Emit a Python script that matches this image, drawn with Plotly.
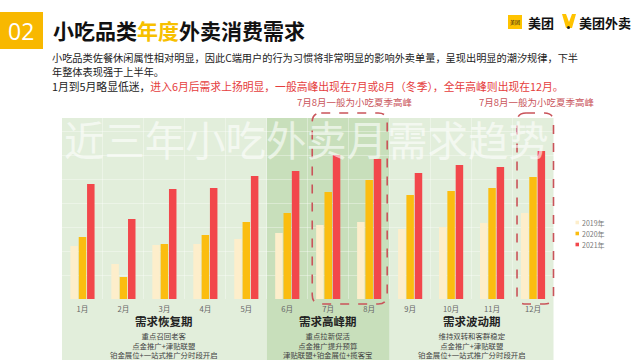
import plotly.graph_objects as go

months = ["1月", "2月", "3月", "4月", "5月", "6月", "7月", "8月", "9月", "10月", "11月", "12月"]
y2019 = [53, 35, 54, 55, 60, 66, 74, 77, 70, 72, 76, 86]
y2020 = [62, 22, 55, 64, 77, 86, 107, 119, 104, 108, 111, 122]
y2021 = [115, 80, 110, 111, 123, 128, 144, 140, 126, 134, 132, 148]
series_names = ["2019年", "2020年", "2021年"]
series_colors = ["#fdeecb", "#fbbd10", "#f2474b"]

phases = [
    {"range": (0, 4), "title": "需求恢复期", "lines": ["重点召回老客", "点金推广+津贴联盟", "铂金展位+一站式推广分时段开启"], "bg": "#e2eedb"},
    {"range": (5, 7), "title": "需求高峰期", "lines": ["重点拉新促活", "点金推广提升预算", "津贴联盟+铂金展位+揽客宝"], "bg": "#c8dfbb"},
    {"range": (8, 11), "title": "需求波动期", "lines": ["维持双转和客群稳定", "点金推广+津贴联盟", "铂金展位+一站式推广分时段开启"], "bg": "#e2eedb"},
]
highlight_groups = [(6, 7), (11, 11)]
highlight_note = "7月8月一般为小吃夏季高峰"

W, H = 640, 360
FONT = "Noto Sans CJK SC"
def X(p): return p / W
def Y(p): return 1 - p / H

plot_left, plot_right = 62, 553.5
base_y, top_y = 299, 118
band = (plot_right - plot_left) / len(months)
def cx(i): return plot_left + band * (i + 0.5)

fig = go.Figure()
for name, vals, col in zip(series_names, [y2019, y2020, y2021], series_colors):
    fig.add_trace(go.Bar(x=months, y=vals, name=name, marker=dict(color=col, line=dict(width=0)),
                         showlegend=False, hoverinfo="x+y+name"))

shapes = []
annotations = []

# phase backgrounds and texts
for ph in phases:
    a, b = ph["range"]
    shapes.append(dict(type="rect", xref="paper", yref="paper", layer="below",
                       x0=X(plot_left + band * a), x1=X(plot_left + band * (b + 1)),
                       y0=0, y1=Y(top_y), fillcolor=ph["bg"], line=dict(width=0)))
    c = (plot_left + band * a + plot_left + band * (b + 1)) / 2
    annotations.append(dict(xref="paper", yref="paper", x=X(c), y=Y(320.5), text="<b>" + ph["title"] + "</b>",
                            showarrow=False, xanchor="center", yanchor="middle", borderpad=0,
                            font=dict(family=FONT, size=11.5, color="#222")))
    annotations.append(dict(xref="paper", yref="paper", x=X(c), y=Y(345), text="<br>".join(ph["lines"]),
                            showarrow=False, xanchor="center", yanchor="middle", borderpad=0,
                            font=dict(family=FONT, size=7.4, color="#444")))

# big watermark title
annotations.append(dict(xref="paper", yref="paper", x=X(62), y=Y(138), text="近三年小吃外卖月需求趋势",
                        showarrow=False, xanchor="left", yanchor="middle",
                        font=dict(family=FONT, size=40.4, color="rgba(255,255,255,0.6)")))

# dashed highlight boxes
def rounded(x0, y0, x1, y1, r=9):
    rx, ry = r / W, r / H
    a0, a1, b0, b1 = X(x0), X(x1), Y(y1), Y(y0)
    return (f"M {a0+rx},{b1} L {a1-rx},{b1} Q {a1},{b1} {a1},{b1-ry} L {a1},{b0+ry} Q {a1},{b0} {a1-rx},{b0} "
            f"L {a0+rx},{b0} Q {a0},{b0} {a0},{b0+ry} L {a0},{b1-ry} Q {a0},{b1} {a0+rx},{b1} Z")

for (g0, g1) in highlight_groups:
    x0 = cx(g0) - 16
    x1 = cx(g1) + 18 if g1 < 11 else plot_right
    shapes.append(dict(type="path", xref="paper", yref="paper", path=rounded(x0, 113, x1, 304),
                       line=dict(color="#c9545a", width=1.6, dash="dash"), layer="above"))
    annotations.append(dict(xref="paper", yref="paper", x=X((cx(g0) + cx(g1)) / 2 + 6 if g1 < 11 else 537), y=Y(102),
                            text=highlight_note, showarrow=False, xanchor="center", yanchor="middle",
                            font=dict(family=FONT, size=9.5, color="#c9545a")))

# header
shapes.append(dict(type="rect", xref="paper", yref="paper", x0=0, x1=X(43), y0=Y(49), y1=Y(12),
                   fillcolor="#f8b800", line=dict(width=0)))
annotations.append(dict(xref="paper", yref="paper", x=X(21), y=Y(31), text="02", showarrow=False,
                        xanchor="center", yanchor="middle", font=dict(family="Open Sans", size=23, color="white")))
annotations.append(dict(xref="paper", yref="paper", x=X(51), y=Y(30),
                        text="<b>小吃品类<span style='color:#f7c000'>年度</span>外卖消费需求</b>",
                        showarrow=False, xanchor="left", yanchor="middle",
                        font=dict(family=FONT, size=21, color="#111")))
body = [
    ("小吃品类佐餐休闲属性相对明显，因此C端用户的行为习惯将非常明显的影响外卖单量，呈现出明显的潮汐规律，下半", 58, 10.2),
    ("年整体表现强于上半年。", 72, 10.2),
    ("1月到5月略显低迷，<span style='color:#e53d3d'>进入6月后需求上扬明显，一般高峰出现在7月或8月（冬季），全年高峰则出现在12月。</span>", 86, 10.8),
]
for t, yy, fs in body:
    annotations.append(dict(xref="paper", yref="paper", x=X(51), y=Y(yy), text=t, showarrow=False,
                            xanchor="left", yanchor="middle", borderpad=0,
                            font=dict(family=FONT, size=fs, color="#222")))

# logos
shapes.append(dict(type="rect", xref="paper", yref="paper", x0=X(508), x1=X(522), y0=Y(29), y1=Y(15),
                   fillcolor="#ffc300", line=dict(width=0)))
annotations.append(dict(xref="paper", yref="paper", x=X(515), y=Y(22), text="美团", showarrow=False,
                        xanchor="center", yanchor="middle", font=dict(family=FONT, size=5, color="#111")))
annotations.append(dict(xref="paper", yref="paper", x=X(526), y=Y(22), text="<b>美团</b>", showarrow=False,
                        xanchor="left", yanchor="middle", font=dict(family=FONT, size=13, color="#111")))
shapes.append(dict(type="path", xref="paper", yref="paper",
                   path=f"M {X(562)},{Y(14)} L {X(566)},{Y(14)} L {X(569)},{Y(22)} L {X(572)},{Y(14)} L {X(576)},{Y(14)} L {X(572)},{Y(28)} L {X(566)},{Y(28)} Z",
                   fillcolor="#ffc300", line=dict(width=0)))
shapes.append(dict(type="circle", xref="paper", yref="paper", x0=X(567), x1=X(570), y0=Y(29), y1=Y(26),
                   fillcolor="#222", line=dict(width=0)))
annotations.append(dict(xref="paper", yref="paper", x=X(577), y=Y(22), text="<b>美团外卖</b>", showarrow=False,
                        xanchor="left", yanchor="middle", font=dict(family=FONT, size=13, color="#111")))

# legend
for k, (name, col) in enumerate(zip(series_names, series_colors)):
    yy = 222.5 + 11 * k
    shapes.append(dict(type="rect", xref="paper", yref="paper", x0=X(575.5), x1=X(579), y0=Y(yy + 1.8), y1=Y(yy - 1.8),
                       fillcolor=col, line=dict(width=0)))
    annotations.append(dict(xref="paper", yref="paper", x=X(581), y=Y(yy), text=name, showarrow=False,
                            xanchor="left", yanchor="middle", borderpad=0,
                            font=dict(family=FONT, size=7, color="#777")))

fig.update_layout(
    width=W, height=H, margin=dict(l=0, r=0, t=0, b=0),
    paper_bgcolor="white", plot_bgcolor="rgba(0,0,0,0)",
    barmode="group", bargap=0.39, bargroupgap=0.1,
    shapes=shapes, annotations=annotations,
    font=dict(family=FONT),
    xaxis=dict(domain=[X(plot_left), X(plot_right)], showline=False, ticks="", tickson="boundaries",
               showgrid=True, gridcolor="rgba(255,255,255,0.35)", gridwidth=1,
               tickfont=dict(family=FONT, size=7.6, color="#666"), ticklabelstandoff=4, fixedrange=True),
    yaxis=dict(domain=[Y(base_y), Y(top_y)], range=[0, base_y - top_y], showticklabels=False,
               showgrid=True, gridcolor="rgba(255,255,255,0.35)", dtick=24, zeroline=False, showline=False,
               fixedrange=True),
)

fig.write_html("out.html")
